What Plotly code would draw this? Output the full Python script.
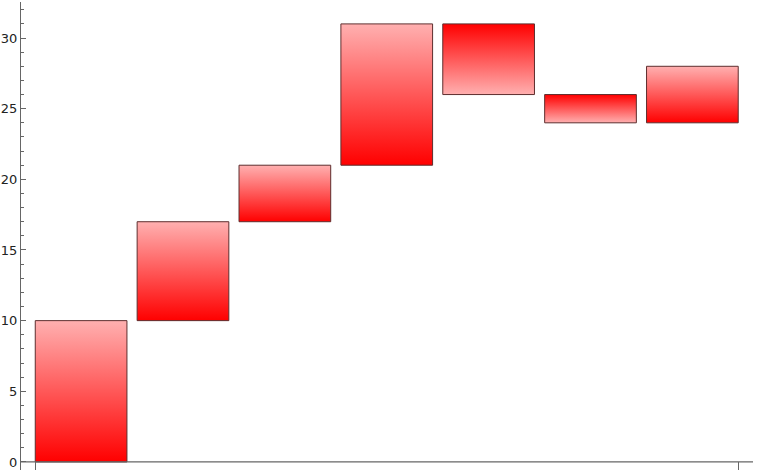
import plotly.graph_objects as go

# waterfall steps
steps = ["A", "B", "C", "D", "E", "F", "G"]
changes = [10, 7, 4, 10, -5, -2, 4]
starts = [0, 10, 17, 21, 31, 26, 24]

BAR_W = 0.9
DEEP = "#ff0000"
PALE = "#ffb0b0"
EDGE = "#5e2e2e"

fig = go.Figure()

for i, (name, base, d) in enumerate(zip(steps, starts, changes)):
    end = base + d
    x0, x1 = i, i + BAR_W
    # gradient runs from the base value (deep red) to the end value (pale)
    if d >= 0:
        cs = [[0, DEEP], [1, PALE]]
    else:
        cs = [[0, PALE], [1, DEEP]]
    fig.add_trace(go.Scatter(
        x=[x0, x1, x1, x0, x0],
        y=[base, base, end, end, base],
        mode="lines",
        fill="toself",
        fillgradient=dict(type="vertical", colorscale=cs),
        line=dict(color=EDGE, width=1),
        name=name,
        showlegend=False,
        hoverinfo="skip",
    ))

# x axis line sits at y = 0, slightly above the bottom of the plot area
fig.add_shape(type="line", xref="paper", yref="y", x0=0, x1=1, y0=0, y1=0,
              line=dict(color="#666666", width=1.2), layer="above")

fig.update_xaxes(
    range=[-0.14, 7.045], automargin=False,
    showline=False, showgrid=False, zeroline=False,
    tickmode="array", tickvals=[0, len(steps) - 1 + BAR_W], ticktext=["", ""],
    ticks="inside", ticklen=8, tickcolor="#666666", tickwidth=1,
)
fig.update_yaxes(
    range=[-0.57, 32.55], automargin=False,
    showline=True, linecolor="#666666", linewidth=1.2,
    showgrid=False, zeroline=False,
    tick0=0, dtick=5, ticks="inside", ticklen=5, tickcolor="#666666",
    minor=dict(dtick=1, ticks="inside", ticklen=3, tickcolor="#666666", showgrid=False),
    tickfont=dict(family="DejaVu Sans", size=13, color="#222222"),
)
fig.update_layout(
    width=768, height=473,
    margin=dict(l=21, r=15, t=2, b=3),
    plot_bgcolor="white", paper_bgcolor="white",
    showlegend=False,
)

# page body has a default 8px margin; drop it so the figure sits at the corner
fig.write_html("out.html", config={"displayModeBar": False},
               post_script="document.body.style.margin='0';")
